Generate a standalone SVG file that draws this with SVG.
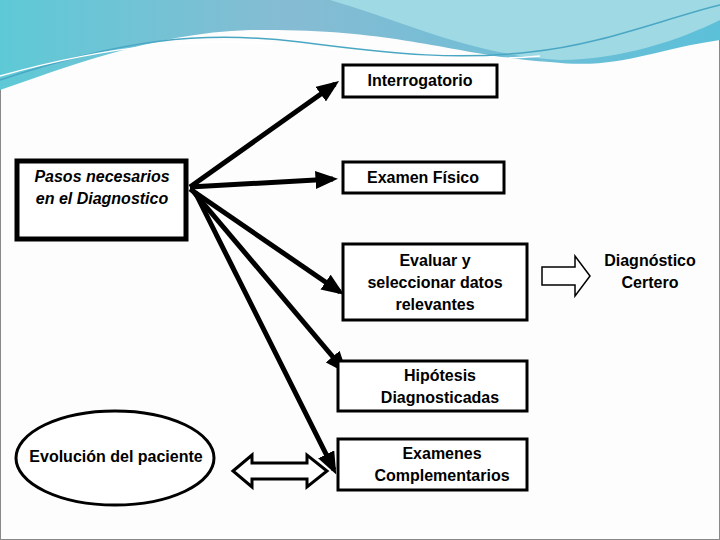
<svg xmlns="http://www.w3.org/2000/svg" width="720" height="540" viewBox="0 0 720 540">
<style>
.b{fill:#fff;stroke:#000;stroke-width:3}
.t{font-family:"Liberation Sans",Arial,sans-serif;font-size:16px;font-weight:bold;text-anchor:middle;fill:#000}
.c{stroke:#000;stroke-width:5;fill:none;marker-end:url(#ah)}
</style>
<defs>
<marker id="ah" markerWidth="4.5" markerHeight="3.6" refX="3.5" refY="1.8" orient="auto"><path d="M0,0L4.5,1.8L0,3.6z" fill="#000"/></marker>
<linearGradient id="g1" x1="0" x2="1"><stop offset="0" stop-color="#5ec9d6"/><stop offset="0.4" stop-color="#86bcd3"/><stop offset="1" stop-color="#5cc0d9"/></linearGradient>
</defs>
<rect width="720" height="540" fill="#fdfdfd" stroke="#888" stroke-width="2"/>
<path d="M0,0H720V40C650,50 620,70 550,62C450,55 400,28 250,30C150,33 60,70 0,90Z" fill="url(#g1)"/>
<path d="M330,0H720V20C680,40 620,60 560,60C470,55 400,20 330,0Z" fill="#9ed9e4"/>
<path d="M0,80C120,40 200,30 300,42C400,55 460,60 530,52C600,45 660,20 720,5" stroke="#4aa7c4" stroke-width="1.5" fill="none"/>
<path d="M0,76C110,45 200,36 300,46C400,57 470,62 540,56" stroke="#fff" stroke-width="1.5" fill="none"/>
<g id="conn">
<line class="c" x1="190" y1="187" x2="335" y2="84"/>
<line class="c" x1="190" y1="187" x2="333" y2="179"/>
<line class="c" x1="190" y1="189" x2="340" y2="292"/>
<line class="c" x1="192" y1="190" x2="344" y2="370"/>
<line class="c" x1="195" y1="192" x2="334" y2="470"/>
</g>
<g id="pasos"><rect x="17" y="161" width="169" height="78" fill="#fff" stroke="#000" stroke-width="5"/>
<text class="t" x="102" y="182" font-style="italic">Pasos necesarios</text>
<text class="t" x="102" y="204" font-style="italic">en el Diagnostico</text></g>
<g id="interrogatorio"><rect class="b" x="343" y="65" width="154" height="32"/><text class="t" x="420" y="86">Interrogatorio</text></g>
<g id="examen"><rect class="b" x="343" y="162" width="161" height="31"/><text class="t" x="423" y="183">Examen Físico</text></g>
<g id="evaluar"><rect class="b" x="343" y="244" width="184" height="76"/>
<text class="t" x="435" y="266">Evaluar y</text><text class="t" x="435" y="288">seleccionar  datos</text><text class="t" x="435" y="310">relevantes</text></g>
<g id="hipotesis"><rect class="b" x="338" y="361" width="189" height="50"/>
<text class="t" x="440" y="381">Hipótesis</text><text class="t" x="440" y="403">Diagnosticadas</text></g>
<g id="examenes"><rect class="b" x="338" y="439" width="189" height="51"/>
<text class="t" x="442" y="459">Examenes</text><text class="t" x="442" y="481">Complementarios</text></g>
<g id="evolucion"><ellipse cx="115" cy="458" rx="99" ry="47" fill="#fff" stroke="#000" stroke-width="3"/>
<text class="t" x="116" y="462">Evolución del paciente</text></g>
<g id="dbl"><path d="M233,471L252,455V463H307V455L327,471L307,487V479H252V487Z" fill="#fff" stroke="#000" stroke-width="3"/></g>
<g id="hollow"><path d="M542,267H575V256L590,276L575,296V285H542Z" fill="#fff" stroke="#000" stroke-width="1.5"/></g>
<g id="certero"><text class="t" x="650" y="266">Diagnóstico</text><text class="t" x="650" y="288">Certero</text></g>
</svg>
